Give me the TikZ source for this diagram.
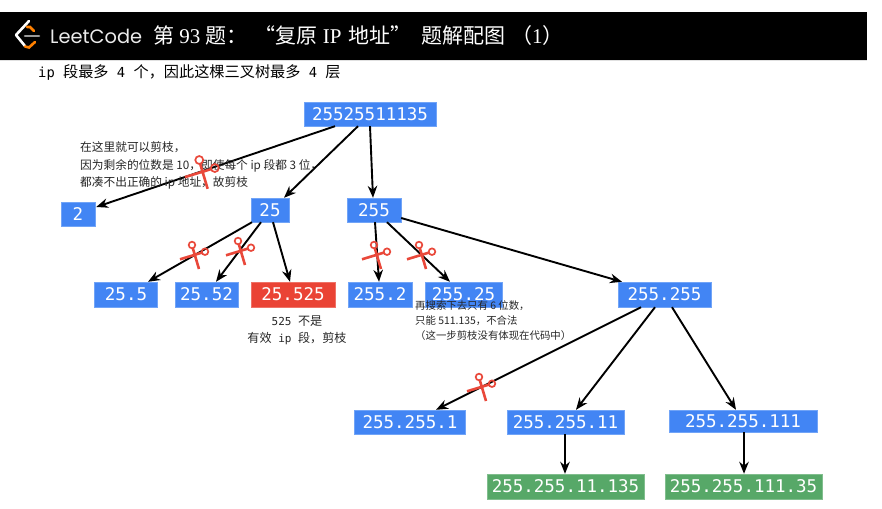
\documentclass[tikz,border=0pt]{standalone}
\usepackage{fontspec}
\setmainfont{Liberation Serif}
\setmonofont{DejaVu Sans Mono}
\newfontfamily\cjk{Noto Sans CJK SC}
\newfontfamily\cjkwide[Scale=1.1]{Noto Sans CJK SC}
\newfontfamily\logofont{Poppins}
\newcommand{\zh}[1]{{\cjkwide #1}}
\newcommand{\zt}[1]{{\cjk #1}}
\usetikzlibrary{arrows.meta}
\definecolor{nodeblue}{HTML}{4285F4}
\definecolor{nodered}{HTML}{EA4335}
\definecolor{nodegreen}{HTML}{57A868}
\definecolor{scissorred}{HTML}{E9483A}
\begin{document}
\begin{tikzpicture}[x=1pt,y=-1pt,line cap=butt,line join=miter,>={Stealth[length=12pt,width=9.5pt]}]
	\tikzset{
		ipbox/.style={fill=nodeblue,draw=nodeblue!75,line width=0.4pt,text=white,inner sep=0pt,minimum height=24pt,font=\ttfamily\fontsize{17.5}{20}\selectfont},
		badbox/.style={ipbox,fill=nodered,draw=nodered!75},
		okbox/.style={ipbox,fill=nodegreen,draw=nodegreen!75,minimum height=25pt},
		edge/.style={->,line width=1.9pt},
		note/.style={inner sep=0pt,align=left,anchor=north west,text=black!85},
		scissorpic/.pic={
			\draw[scissorred,line width=1.7pt] (-2.3,-10) circle (3.3) (10.7,-3.3) circle (3.3);
			\draw[scissorred,line width=2.6pt] (-1.5,-6.8) -- (4.7,14) (7.6,-2.4) -- (-14.3,4.3);
		}
	}
	\useasboundingbox (0,0) rectangle (882,508);
	% header
	\fill[black] (0,12) rectangle (867,60);
	\draw[black!12,line width=0.5pt] (0,60.5) -- (867,60.5);
	\draw[white,line width=2.6pt,line cap=round,line join=round] (29,21) -- (16,35) -- (25,46);
	\draw[orange,line width=2.6pt,line cap=round] (25,46.5) -- (29,47.5) -- (35,42);
	\draw[orange,line width=2.6pt,line cap=round] (27,27) -- (30,27) -- (34,31);
	\draw[black!40,line width=2.6pt,line cap=round] (25,36) -- (39,36);
	\node[inner sep=0pt,anchor=west,text=black!8,font=\logofont\fontsize{19.4}{24}\selectfont] (logotext) at (50,36) {LeetCode};
	\node[inner sep=0pt,anchor=west,text=white,font=\fontsize{21}{24}\selectfont] (title) at (153,36)
		{\zt{第} 93 \zt{题：}\hspace{7pt}\zt{“复原} IP\hspace{2pt} \zt{地址”}\hspace{4pt} \zt{题解配图}\hspace{6pt}\zt{（}1\zt{）}};
	\node[inner sep=0pt,anchor=west,font=\ttfamily\fontsize{13.8}{16}\selectfont] (subtitle) at (38,73)
		{ip \zh{段最多} 4 \zh{个，因此这棵三叉树最多} 4 \zh{层}};
	% tree nodes
	\node[ipbox,minimum width=132pt] (root) at (370,114) {25525511135};
	\node[ipbox,minimum width=34pt] (two) at (78,214) {2};
	\node[ipbox,minimum width=38pt] (n25) at (270,210) {25};
	\node[ipbox,minimum width=54pt] (n255) at (374,210) {255};
	\node[ipbox,minimum width=63pt,minimum height=25pt] (a5) at (126,294.5) {25.5};
	\node[ipbox,minimum width=63pt,minimum height=25pt] (a52) at (206.5,294.5) {25.52};
	\node[badbox,minimum width=84pt,minimum height=25pt] (a525) at (293,294.5) {25.525};
	\node[ipbox,minimum width=64pt,minimum height=25pt] (b2) at (380,294.5) {255.2};
	\node[ipbox,minimum width=77pt,minimum height=25pt] (b25) at (463.5,294.5) {255.25};
	\node[ipbox,minimum width=93pt,minimum height=25pt] (b255) at (664.5,294.5) {255.255};
	\node[ipbox,minimum width=111pt] (c1) at (410,422) {255.255.1};
	\node[ipbox,minimum width=117pt] (c11) at (565.5,422) {255.255.11};
	\node[ipbox,minimum width=148pt,minimum height=22pt] (c111) at (743,421) {255.255.111};
	\node[okbox,minimum width=157pt] (d135) at (565.5,486.5) {255.255.11.135};
	\node[okbox,minimum width=157pt] (d35) at (743.5,486.5) {255.255.111.35};
	% connectors
	\draw[edge] ([xshift=-35pt]root.south) -- ([xshift=1pt,yshift=7pt]two.east);
	\draw[edge] ([xshift=-12pt]root.south) -- ([xshift=14pt]n25.north);
	\draw[edge] (root.south) -- ([xshift=-1pt]n255.north);
	\draw[edge] ([xshift=-18pt]n25.south) -- ([xshift=22pt]a5.north);
	\draw[edge] ([xshift=-9pt]n25.south) -- ([xshift=9.5pt]a52.north);
	\draw[edge] ([xshift=3pt]n25.south) -- ([xshift=-3pt]a525.north);
	\draw[edge] ([xshift=1pt]n255.south) -- ([xshift=-1pt]b2.north);
	\draw[edge] ([xshift=13pt]n255.south) -- ([xshift=-13.5pt]b25.north);
	\draw[edge] ([yshift=-8pt]n255.east) -- ([xshift=-42.5pt]b255.north);
	\draw[edge] ([xshift=-23.5pt]b255.south) -- ([xshift=26pt]c1.north);
	\draw[edge] ([xshift=-9.5pt]b255.south) -- ([xshift=10.5pt]c11.north);
	\draw[edge] ([xshift=7.5pt]b255.south) -- ([xshift=-7pt]c111.north);
	\draw[edge] ([xshift=-0.5pt]c11.south) -- ([xshift=-0.5pt]d135.north);
	\draw[edge] ([xshift=1pt]c111.south) -- ([xshift=0.5pt]d35.north);
	% notes
	\node[note,font=\cjk\fontsize{11.7}{17.5}\selectfont] (noteleft) at (80,141.5)
		{在这里就可以剪枝，\\因为剩余的位数是 10，即使每个 ip 段都 3 位，\\都凑不出正确的 ip 地址，故剪枝};
	\node[note,font=\cjk\fontsize{10.4}{15}\selectfont] (noteright) at (415,300.5)
		{再搜索下去只有 6 位数，\\只能 511.135，不合法\\（这一步剪枝没有体现在代码中）};
	\node[inner sep=0pt,align=center,text=black!85,font=\ttfamily\fontsize{11}{17}\selectfont] (notebad) at (297,330.5)
		{525 \zh{不是}\\\zh{有效} ip \zh{段，剪枝}};
	% scissors
	\pic[scale=1.2] at (202,172) {scissorpic};
	\foreach \x/\y in {194.3/255,240.3/251,376.3/255,421.3/255,481.3/387}
		\pic at (\x,\y) {scissorpic};
\end{tikzpicture}
\end{document}
